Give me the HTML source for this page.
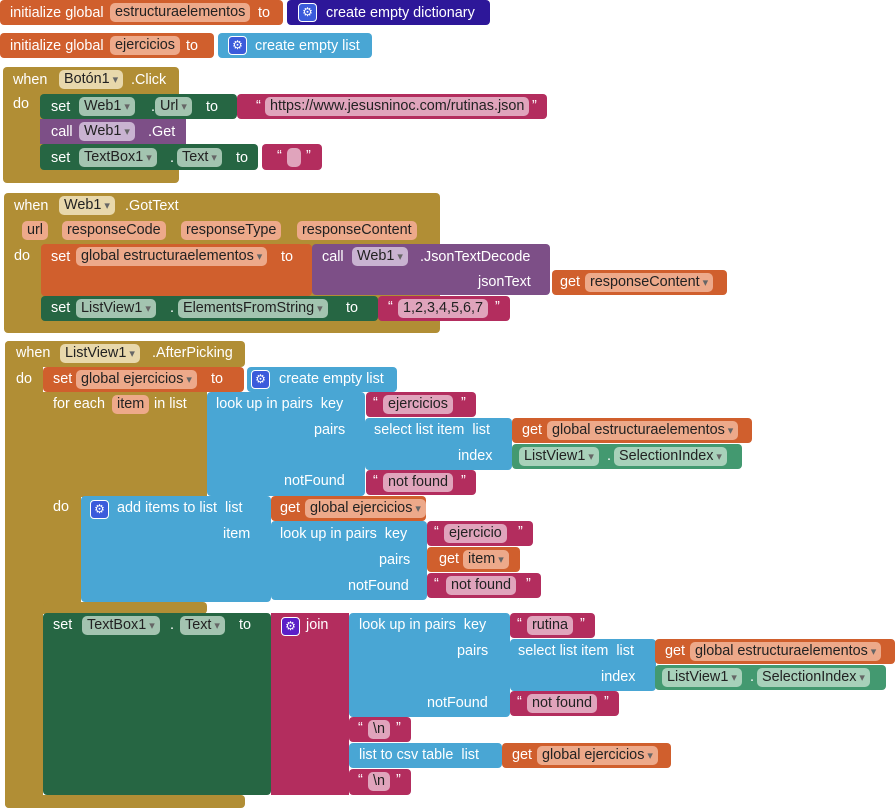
<!DOCTYPE html>
<html><head><meta charset="utf-8"><style>
body{margin:0;width:896px;height:808px;background:#fff;position:relative;overflow:hidden;font-family:"Liberation Sans",Arial,sans-serif;font-size:14.4px}
.b{position:absolute;border-radius:4px}
.t{position:absolute;color:#fff;line-height:20px;white-space:nowrap}
.p{position:absolute;height:19px;line-height:19px;border-radius:5px;padding:0 5px;color:#222;white-space:nowrap}
.p i{font-style:normal;font-size:11px;color:#666;margin-left:3px}
.o{background:#d05f2d}.po{background:#eda98a}
.g{background:#b18e35}.pg{background:#e8d8ac}
.s{background:#266643}.ps{background:#a3c4b0}
.c{background:#7d4f87}.pc{background:#c9b3d1}
.k{background:#b32d5e}.pk{background:#e0a4bc}
.l{background:#49a6d4}
.d{background:#2d1799}
.m{background:#439970}.pm{background:#a8d1ba}
.gear{position:absolute;width:17px;height:17px;border-radius:4px;background:#3b5bdb;border:1px solid #fff;color:#fff;font-size:12px;line-height:17px;text-align:center}
</style></head><body>

<div class="b o" style="left:0;top:0;width:283px;height:25px"></div>
<div class="t" style="left:10px;top:3px">initialize global</div>
<div class="p po" style="left:110px;top:3px">estructuraelementos</div>
<div class="t" style="left:258px;top:3px">to</div>
<div class="b d" style="left:287px;top:0;width:203px;height:25px"></div>
<div class="gear" style="left:298px;top:3px">⚙</div>
<div class="t" style="left:326px;top:3px">create empty dictionary</div>

<div class="b o" style="left:0;top:33px;width:214px;height:25px"></div>
<div class="t" style="left:10px;top:36px">initialize global</div>
<div class="p po" style="left:110px;top:36px">ejercicios</div>
<div class="t" style="left:186px;top:36px">to</div>
<div class="b l" style="left:218px;top:33px;width:154px;height:25px"></div>
<div class="gear" style="left:228px;top:36px">⚙</div>
<div class="t" style="left:255px;top:36px">create empty list</div>

<div class="b g" style="left:3px;top:67px;width:176px;height:116px"></div>
<div class="t" style="left:13px;top:70px">when</div>
<div class="p pg" style="left:59px;top:70px">Botón1<i>▾</i></div>
<div class="t" style="left:131px;top:70px">.Click</div>
<div class="t" style="left:13px;top:94px">do</div>
<div class="b s" style="left:40px;top:94px;width:197px;height:25px"></div>
<div class="t" style="left:51px;top:97px">set</div>
<div class="p ps" style="left:79px;top:97px">Web1<i>▾</i></div>
<div class="t" style="left:151px;top:97px">.</div>
<div class="p ps" style="left:155px;top:97px">Url<i>▾</i></div>
<div class="t" style="left:206px;top:97px">to</div>
<div class="b k" style="left:237px;top:94px;width:310px;height:25px"></div>
<div class="t" style="left:256px;top:96px">“</div>
<div class="p pk" style="left:265px;top:97px">https://www.jesusninoc.com/rutinas.json</div>
<div class="t" style="left:532px;top:96px">”</div>
<div class="b c" style="left:40px;top:119px;width:146px;height:25px;border-radius:0"></div>
<div class="t" style="left:51px;top:122px">call</div>
<div class="p pc" style="left:79px;top:122px">Web1<i>▾</i></div>
<div class="t" style="left:148px;top:122px">.Get</div>
<div class="b s" style="left:40px;top:144px;width:218px;height:26px"></div>
<div class="t" style="left:51px;top:148px">set</div>
<div class="p ps" style="left:79px;top:148px">TextBox1<i>▾</i></div>
<div class="t" style="left:170px;top:148px">.</div>
<div class="p ps" style="left:177px;top:148px">Text<i>▾</i></div>
<div class="t" style="left:236px;top:148px">to</div>
<div class="b k" style="left:262px;top:144px;width:60px;height:26px"></div>
<div class="t" style="left:277px;top:146px">“</div>
<div class="p pk" style="left:287px;top:148px;width:4px"></div>
<div class="t" style="left:306px;top:146px">”</div>

<div class="b g" style="left:4px;top:193px;width:436px;height:140px"></div>
<div class="t" style="left:14px;top:196px">when</div>
<div class="p pg" style="left:59px;top:196px">Web1<i>▾</i></div>
<div class="t" style="left:125px;top:196px">.GotText</div>
<div class="p po" style="left:22px;top:221px">url</div>
<div class="p po" style="left:62px;top:221px">responseCode</div>
<div class="p po" style="left:181px;top:221px">responseType</div>
<div class="p po" style="left:297px;top:221px">responseContent</div>
<div class="t" style="left:14px;top:246px">do</div>
<div class="b o" style="left:41px;top:244px;width:271px;height:52px"></div>
<div class="t" style="left:51px;top:247px">set</div>
<div class="p po" style="left:76px;top:247px">global estructuraelementos<i>▾</i></div>
<div class="t" style="left:281px;top:247px">to</div>
<div class="b c" style="left:312px;top:244px;width:238px;height:51px"></div>
<div class="t" style="left:322px;top:247px">call</div>
<div class="p pc" style="left:352px;top:247px">Web1<i>▾</i></div>
<div class="t" style="left:420px;top:247px">.JsonTextDecode</div>
<div class="t" style="left:478px;top:272px">jsonText</div>
<div class="b o" style="left:552px;top:270px;width:175px;height:25px"></div>
<div class="t" style="left:560px;top:272px">get</div>
<div class="p po" style="left:585px;top:273px">responseContent<i>▾</i></div>
<div class="b s" style="left:41px;top:296px;width:337px;height:25px"></div>
<div class="t" style="left:51px;top:298px">set</div>
<div class="p ps" style="left:76px;top:299px">ListView1<i>▾</i></div>
<div class="t" style="left:170px;top:298px">.</div>
<div class="p ps" style="left:178px;top:299px">ElementsFromString<i>▾</i></div>
<div class="t" style="left:346px;top:298px">to</div>
<div class="b k" style="left:378px;top:296px;width:132px;height:25px"></div>
<div class="t" style="left:388px;top:297px">“</div>
<div class="p pk" style="left:398px;top:299px">1,2,3,4,5,6,7</div>
<div class="t" style="left:495px;top:297px">”</div>

<div class="b g" style="left:5px;top:341px;width:240px;height:26px"></div>
<div class="b g" style="left:5px;top:341px;width:38px;height:467px"></div>
<div class="b g" style="left:5px;top:795px;width:240px;height:13px"></div>
<div class="t" style="left:16px;top:343px">when</div>
<div class="p pg" style="left:60px;top:344px">ListView1<i>▾</i></div>
<div class="t" style="left:152px;top:343px">.AfterPicking</div>
<div class="t" style="left:16px;top:369px">do</div>
<div class="b o" style="left:43px;top:367px;width:201px;height:25px"></div>
<div class="t" style="left:53px;top:369px">set</div>
<div class="p po" style="left:76px;top:370px">global ejercicios<i>▾</i></div>
<div class="t" style="left:211px;top:369px">to</div>
<div class="b l" style="left:247px;top:367px;width:150px;height:25px"></div>
<div class="gear" style="left:251px;top:370px">⚙</div>
<div class="t" style="left:279px;top:369px">create empty list</div>

<div class="b g" style="left:43px;top:392px;width:164px;height:105px;border-radius:0"></div>
<div class="b g" style="left:43px;top:392px;width:38px;height:222px;border-radius:0"></div>
<div class="b g" style="left:43px;top:602px;width:164px;height:12px"></div>
<div class="t" style="left:53px;top:394px">for each</div>
<div class="p po" style="left:112px;top:395px">item</div>
<div class="t" style="left:154px;top:394px">in list</div>
<div class="t" style="left:53px;top:497px">do</div>
<div class="b l" style="left:207px;top:392px;width:158px;height:104px"></div>
<div class="t" style="left:216px;top:394px">look up in pairs &nbsp;key</div>
<div class="t" style="left:314px;top:420px">pairs</div>
<div class="t" style="left:284px;top:471px">notFound</div>
<div class="b k" style="left:366px;top:392px;width:110px;height:25px"></div>
<div class="t" style="left:373px;top:393px">“</div>
<div class="p pk" style="left:383px;top:395px">ejercicios</div>
<div class="t" style="left:461px;top:393px">”</div>
<div class="b l" style="left:365px;top:418px;width:147px;height:52px"></div>
<div class="t" style="left:374px;top:420px">select list item &nbsp;list</div>
<div class="t" style="left:458px;top:446px">index</div>
<div class="b o" style="left:512px;top:418px;width:240px;height:25px"></div>
<div class="t" style="left:522px;top:420px">get</div>
<div class="p po" style="left:547px;top:421px">global estructuraelementos<i>▾</i></div>
<div class="b m" style="left:512px;top:444px;width:230px;height:25px"></div>
<div class="p pm" style="left:519px;top:447px">ListView1<i>▾</i></div>
<div class="t" style="left:607px;top:446px">.</div>
<div class="p pm" style="left:614px;top:447px">SelectionIndex<i>▾</i></div>
<div class="b k" style="left:366px;top:470px;width:110px;height:25px"></div>
<div class="t" style="left:373px;top:471px">“</div>
<div class="p pk" style="left:383px;top:473px">not found</div>
<div class="t" style="left:461px;top:471px">”</div>

<div class="b l" style="left:81px;top:496px;width:190px;height:106px"></div>
<div class="gear" style="left:90px;top:500px">⚙</div>
<div class="t" style="left:117px;top:498px">add items to list &nbsp;list</div>
<div class="t" style="left:223px;top:524px">item</div>
<div class="b o" style="left:271px;top:496px;width:155px;height:25px"></div>
<div class="t" style="left:280px;top:498px">get</div>
<div class="p po" style="left:305px;top:499px">global ejercicios<i>▾</i></div>
<div class="b l" style="left:271px;top:521px;width:156px;height:79px"></div>
<div class="t" style="left:280px;top:524px">look up in pairs &nbsp;key</div>
<div class="t" style="left:379px;top:550px">pairs</div>
<div class="t" style="left:348px;top:576px">notFound</div>
<div class="b k" style="left:427px;top:521px;width:106px;height:25px"></div>
<div class="t" style="left:434px;top:522px">“</div>
<div class="p pk" style="left:444px;top:524px">ejercicio</div>
<div class="t" style="left:518px;top:522px">”</div>
<div class="b o" style="left:427px;top:547px;width:93px;height:25px"></div>
<div class="t" style="left:439px;top:549px">get</div>
<div class="p po" style="left:463px;top:550px">item<i>▾</i></div>
<div class="b k" style="left:427px;top:573px;width:114px;height:25px"></div>
<div class="t" style="left:434px;top:574px">“</div>
<div class="p pk" style="left:446px;top:576px">not found</div>
<div class="t" style="left:526px;top:574px">”</div>

<div class="b s" style="left:43px;top:613px;width:228px;height:182px"></div>
<div class="t" style="left:53px;top:615px">set</div>
<div class="p ps" style="left:82px;top:616px">TextBox1<i>▾</i></div>
<div class="t" style="left:170px;top:615px">.</div>
<div class="p ps" style="left:180px;top:616px">Text<i>▾</i></div>
<div class="t" style="left:239px;top:615px">to</div>
<div class="b k" style="left:271px;top:613px;width:78px;height:182px;border-radius:0"></div>
<div class="gear" style="left:281px;top:617px;background:#5b1fc7">⚙</div>
<div class="t" style="left:306px;top:615px">join</div>
<div class="b l" style="left:349px;top:613px;width:161px;height:104px"></div>
<div class="t" style="left:359px;top:615px">look up in pairs &nbsp;key</div>
<div class="t" style="left:457px;top:641px">pairs</div>
<div class="t" style="left:427px;top:693px">notFound</div>
<div class="b k" style="left:510px;top:613px;width:85px;height:25px"></div>
<div class="t" style="left:517px;top:614px">“</div>
<div class="p pk" style="left:527px;top:616px">rutina</div>
<div class="t" style="left:580px;top:614px">”</div>
<div class="b l" style="left:510px;top:639px;width:146px;height:52px"></div>
<div class="t" style="left:518px;top:641px">select list item &nbsp;list</div>
<div class="t" style="left:601px;top:667px">index</div>
<div class="b o" style="left:655px;top:639px;width:240px;height:25px"></div>
<div class="t" style="left:665px;top:641px">get</div>
<div class="p po" style="left:690px;top:642px">global estructuraelementos<i>▾</i></div>
<div class="b m" style="left:655px;top:665px;width:231px;height:25px"></div>
<div class="p pm" style="left:662px;top:668px">ListView1<i>▾</i></div>
<div class="t" style="left:750px;top:667px">.</div>
<div class="p pm" style="left:757px;top:668px">SelectionIndex<i>▾</i></div>
<div class="b k" style="left:510px;top:691px;width:109px;height:25px"></div>
<div class="t" style="left:517px;top:692px">“</div>
<div class="p pk" style="left:527px;top:694px">not found</div>
<div class="t" style="left:604px;top:692px">”</div>
<div class="b k" style="left:349px;top:717px;width:62px;height:25px"></div>
<div class="t" style="left:358px;top:718px">“</div>
<div class="p pk" style="left:368px;top:720px">\n</div>
<div class="t" style="left:396px;top:718px">”</div>
<div class="b l" style="left:349px;top:743px;width:153px;height:25px"></div>
<div class="t" style="left:359px;top:745px">list to csv table &nbsp;list</div>
<div class="b o" style="left:502px;top:743px;width:169px;height:25px"></div>
<div class="t" style="left:512px;top:745px">get</div>
<div class="p po" style="left:537px;top:746px">global ejercicios<i>▾</i></div>
<div class="b k" style="left:349px;top:769px;width:62px;height:26px"></div>
<div class="t" style="left:358px;top:770px">“</div>
<div class="p pk" style="left:368px;top:772px">\n</div>
<div class="t" style="left:396px;top:770px">”</div>

</body></html>
